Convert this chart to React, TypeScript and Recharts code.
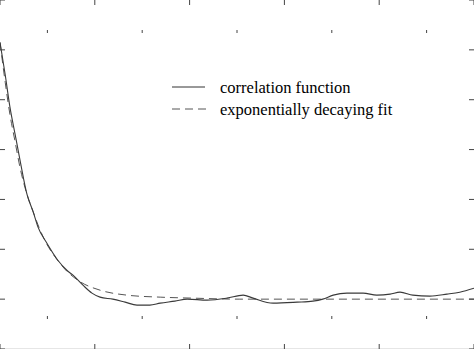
import { LineChart, Line, XAxis, YAxis, Legend } from 'recharts';

// correlation function (x in lag units, y in correlation)
const corrX = [0, 0.11, 0.21, 0.32, 0.42, 0.57, 0.70, 0.80, 0.99, 1.22, 1.41, 1.54, 1.75, 1.94, 2.11, 2.38, 2.64, 2.89, 3.16, 3.38, 3.69, 3.95, 4.37, 4.79, 5.13, 5.34, 5.76, 6.27, 6.60, 6.81, 7.03, 7.32, 7.66, 7.95, 8.23, 8.44, 8.71, 9.07, 9.43, 9.70, 10.0];
const corrY = [1.03, 0.9, 0.77, 0.66, 0.56, 0.42, 0.35, 0.29, 0.224, 0.156, 0.116, 0.096, 0.056, 0.024, 0.008, 0.0, -0.012, -0.024, -0.024, -0.016, -0.008, 0.0, -0.004, 0.004, 0.016, 0.004, -0.016, -0.012, -0.008, 0.0, 0.016, 0.024, 0.024, 0.016, 0.02, 0.028, 0.016, 0.012, 0.02, 0.028, 0.044];

// exponential fit
const fitX = [0, 0.11, 0.21, 0.32, 0.42, 0.57, 0.70, 0.84, 0.99, 1.16, 1.37, 1.69, 2.11, 2.68, 3.38, 4.07, 5.06, 10.0];
const fitY = [1.03, 0.87, 0.74, 0.63, 0.53, 0.42, 0.35, 0.28, 0.22, 0.17, 0.12, 0.07, 0.036, 0.016, 0.008, 0.004, 0.0, 0.0];

const majorX = [0, 2, 4, 6, 8, 10];
const minorX = [1, 3, 5, 7, 9];
const yTicks = [-0.2, 0, 0.2, 0.4, 0.6, 0.8, 1.0, 1.2];

const seriesNames = ['correlation function', 'exponentially decaying fit'];

const corrData = corrX.map((x, i) => ({ x, y: corrY[i] }));
const fitData = fitX.map((x, i) => ({ x, y: fitY[i] }));

const tickStroke = { stroke: '#444', strokeWidth: 1 };
const noLabel = () => '';

function LegendBox() {
    const font = { fontFamily: "'Liberation Serif', 'Times New Roman', serif", fontSize: 16.5 };
    return (
        <svg width={260} height={52} style={{ display: 'block' }}>
            <line x1={0} x2={33} y1={17} y2={17} stroke="#333" strokeWidth={1} />
            <text x={48} y={23} style={font} fill="#000">{seriesNames[0]}</text>
            <line x1={0} x2={34} y1={39} y2={39} stroke="#555" strokeWidth={1} strokeDasharray="8 5" />
            <text x={48} y={45} style={font} fill="#000">{seriesNames[1]}</text>
        </svg>
    );
}

export default function App() {
    return (
        <div style={{ position: 'absolute', left: 0, top: 0, width: 474, height: 350, background: '#fff' }}>
            <LineChart width={474} height={349} margin={{ top: 0, right: 0, bottom: 0, left: 0 }}>
                {/* bottom axis */}
                <XAxis xAxisId="bMaj" type="number" dataKey="x" domain={[0, 10]} ticks={majorX} orientation="bottom" mirror
                    tickFormatter={noLabel} tickSize={5} tickLine={tickStroke} axisLine={{ stroke: '#ccc' }} allowDataOverflow />
                <XAxis xAxisId="bMin" type="number" dataKey="x" domain={[0, 10]} ticks={minorX} orientation="bottom" mirror
                    tickFormatter={noLabel} tickSize={3} tickLine={tickStroke} axisLine={false} allowDataOverflow />
                {/* top axis */}
                <XAxis xAxisId="tMaj" type="number" dataKey="x" domain={[0, 10]} ticks={majorX} orientation="top" mirror
                    tickFormatter={noLabel} tickSize={5} tickLine={tickStroke} axisLine={false} allowDataOverflow />
                <XAxis xAxisId="tMin" type="number" dataKey="x" domain={[0, 10]} ticks={minorX} orientation="top" mirror
                    tickFormatter={noLabel} tickSize={3} tickLine={tickStroke} axisLine={false} allowDataOverflow />
                <YAxis yAxisId="l" type="number" dataKey="y" domain={[-0.2, 1.2]} ticks={yTicks} orientation="left" mirror
                    tickFormatter={noLabel} tickSize={5} tickLine={tickStroke} axisLine={false} allowDataOverflow />
                <YAxis yAxisId="r" type="number" dataKey="y" domain={[-0.2, 1.2]} ticks={yTicks} orientation="right" mirror
                    tickFormatter={noLabel} tickSize={5} tickLine={tickStroke} axisLine={false} allowDataOverflow />

                <Line xAxisId="bMaj" yAxisId="l" data={fitData} dataKey="y" name={seriesNames[1]} type="monotone"
                    stroke="#555" strokeWidth={1} strokeDasharray="8 5" dot={false} isAnimationActive={false} />
                <Line xAxisId="bMaj" yAxisId="l" data={corrData} dataKey="y" name={seriesNames[0]} type="monotone"
                    stroke="#3a3a3a" strokeWidth={1.1} dot={false} isAnimationActive={false} />

                <Legend layout="vertical" align="center" verticalAlign="middle" content={() => <LegendBox />}
                    wrapperStyle={{ left: 172, top: 70, width: 260, height: 52 }} />
            </LineChart>
        </div>
    );
}
